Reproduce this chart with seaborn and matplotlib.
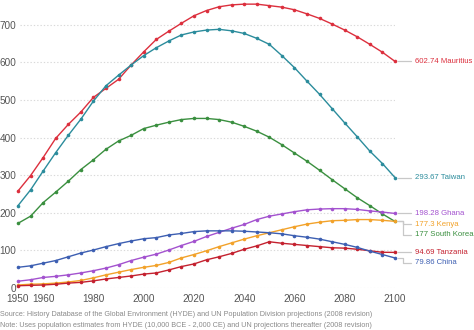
import numpy as np
import pandas as pd
import matplotlib
matplotlib.use("Agg")
import matplotlib.pyplot as plt
import seaborn as sns

years = list(range(1950, 2101, 5))

mauritius = [258, 299, 347, 398, 435, 468, 507, 531, 555, 593, 628, 661, 683, 704, 724, 738,
             748, 753, 755, 755, 751, 747, 740, 729, 717, 702, 686, 668, 648, 627, 602.74]
taiwan = [219, 261, 311, 360, 406, 449, 497, 538, 566, 593, 618, 639, 657, 673, 681, 686,
          688, 684, 677, 664, 648, 618, 586, 550, 515, 477, 439, 402, 364, 331, 293.67]
south_korea = [172, 191, 227, 255, 284, 315, 341, 369, 391, 406, 424, 433, 441, 448, 451, 451,
               448, 441, 430, 417, 401, 381, 359, 337, 313, 288, 264, 240, 219, 197, 177]
ghana = [18, 22, 28, 31, 35, 40, 46, 53, 62, 73, 82, 90, 101, 113, 124, 137,
         148, 159, 169, 182, 191, 197, 203, 208, 210, 211, 211, 209, 205, 202, 198.28]
kenya = [8, 10, 11, 13, 16, 20, 27, 35, 42, 49, 55, 60, 68, 80, 89, 99,
         110, 120, 130, 139, 147, 155, 163, 170, 175, 179, 180, 182, 182, 180, 177.3]
tanzania = [6, 7, 8, 10, 13, 15, 19, 24, 28, 32, 37, 40, 48, 57, 64, 75,
            83, 92, 103, 112, 123, 119, 116, 113, 110, 107, 106, 103, 99, 95, 94.69]
china = [55, 59, 66, 73, 83, 93, 101, 110, 118, 125, 131, 134, 141, 145, 150, 152,
         152, 152, 151, 149, 147, 144, 139, 135, 130, 123, 116, 108, 98, 89, 79.86]

countries = ["Mauritius", "Taiwan", "South Korea", "Ghana", "Kenya", "Tanzania", "China"]
series = [mauritius, taiwan, south_korea, ghana, kenya, tanzania, china]
colors = ["#dc2f3d", "#2b8c9c", "#3a8f3f", "#a352cf", "#f2a22a", "#c4212f", "#3d5fb2"]
end_labels = ["602.74", "293.67", "177", "198.28", "177.3", "94.69", "79.86"]

x_ticks = [1950, 1960, 1980, 2000, 2020, 2040, 2060, 2080, 2100]
y_ticks = [0, 100, 200, 300, 400, 500, 600, 700]

source_text = "Source: History Database of the Global Environment (HYDE) and UN Population Division projections (2008 revision)"
note_text = "Note: Uses population estimates from HYDE (10,000 BCE - 2,000 CE) and UN projections thereafter (2008 revision)"

rows = []
for c, vals in zip(countries, series):
    for y, v in zip(years, vals):
        rows.append({"year": y, "value": v, "country": c})
df = pd.DataFrame(rows)

sns.set_theme(style="white")
plt.rcParams["font.family"] = ["Liberation Sans", "DejaVu Sans"]

W, H = 474, 330
fig = plt.figure(figsize=(W / 100, H / 100), dpi=100)
left, right, top, bottom = 18, 395, 0, 288
ax = fig.add_axes([left / W, 1 - bottom / H, (right - left) / W, (bottom - top) / H])

ymax = 766
ax.set_xlim(1950, 2100)
ax.set_ylim(0, ymax)

for yt in y_ticks:
    ax.axhline(yt, color="#d9d9d9", lw=0.8, ls=(0, (1.2, 1.8)), zorder=0,
               xmin=2 / (right - left), xmax=1)

sns.lineplot(data=df, x="year", y="value", hue="country", hue_order=countries,
             palette=colors, marker="o", markersize=2.6, markeredgewidth=0,
             linewidth=1.0, legend=False, ax=ax, clip_on=False)

for s in ax.spines.values():
    s.set_visible(False)
ax.set_xlabel("")
ax.set_ylabel("")
ax.set_xticks(x_ticks)
ax.set_xticklabels([str(t) for t in x_ticks])
ax.set_yticks(y_ticks)
ax.set_yticklabels([str(t) for t in y_ticks])
ax.tick_params(axis="both", length=0, labelsize=7.2, colors="#555555")
ax.tick_params(axis="y", pad=1)
ax.tick_params(axis="x", pad=4.5)

# end labels with simple vertical de-overlap
px_per_unit = (bottom - top) / ymax
gap = 10.6 / px_per_unit
order = sorted(range(len(countries)), key=lambda i: -series[i][-1])
label_y = {}
prev = None
for i in order:
    v = series[i][-1]
    ly = v if prev is None else min(v, prev - gap)
    label_y[i] = ly
    prev = ly

def yr(px):
    return 2100 + px * 150 / (right - left)

for i in order:
    v = series[i][-1]
    ly = label_y[i]
    if abs(ly - v) < 1e-6:
        ax.plot([yr(3), yr(16)], [v, v], color="#c8c8c8", lw=0.9, clip_on=False)
    else:
        ax.plot([yr(3), yr(8), yr(8), yr(16)], [v, v, ly, ly], color="#c8c8c8", lw=0.9,
                clip_on=False)
    ax.text(yr(19.5), ly, f"{end_labels[i]} {countries[i]}", color=colors[i], fontsize=5.6,
            va="center", ha="left", clip_on=False)

fig.text(0.5 / W, 1 - 315 / H, source_text, fontsize=5.25, color="#8a8a8a", va="center", ha="left")
fig.text(0.5 / W, 1 - 325.5 / H, note_text, fontsize=5.25, color="#8a8a8a", va="center", ha="left")

fig.savefig("out.png", dpi=100)
